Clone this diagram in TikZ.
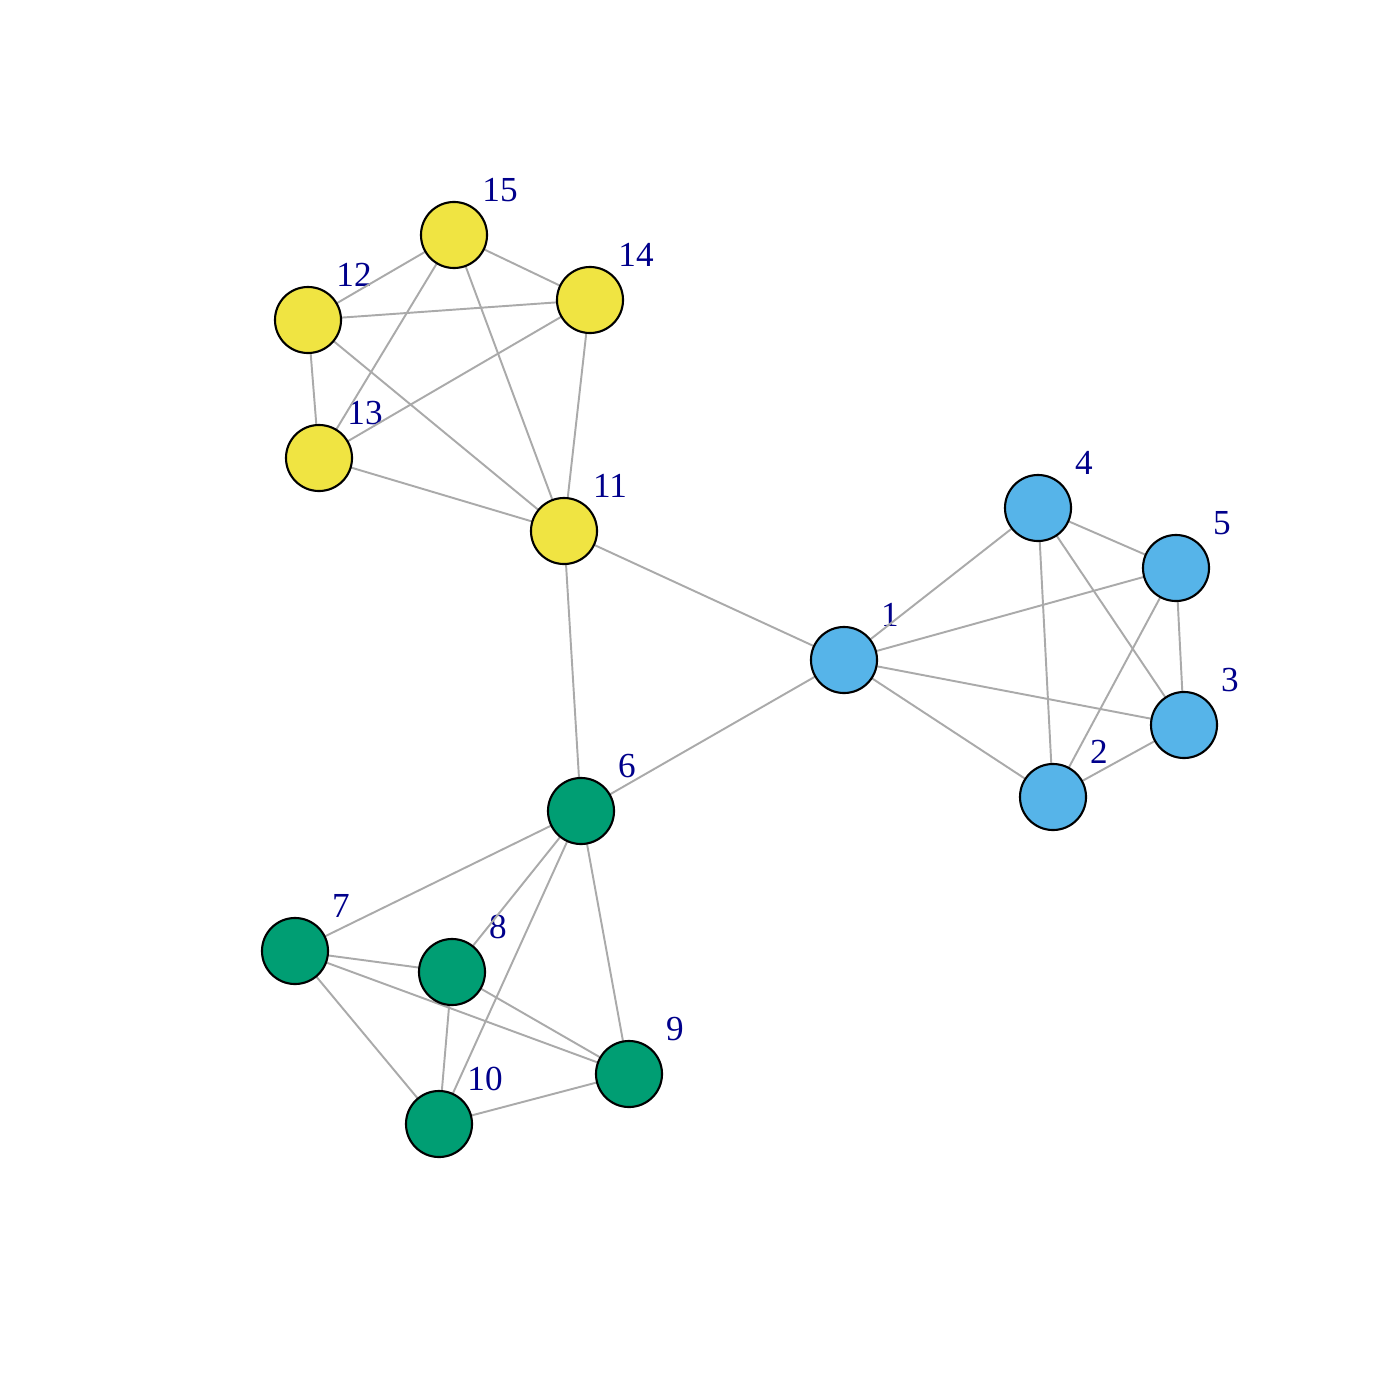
\documentclass[tikz,border=0pt]{standalone}
\usepackage{fontspec}
\setmainfont{Liberation Serif}
\definecolor{cb}{HTML}{56B4E9}
\definecolor{cg}{HTML}{009E73}
\definecolor{cy}{HTML}{F0E442}
\definecolor{lab}{HTML}{00008B}
\definecolor{edge}{HTML}{AAAAAA}
\tikzset{v/.style={circle,draw=black,line width=0.6pt,minimum size=0.66cm,inner sep=0pt},
 lb/.style={text=lab,font=\fontsize{10}{12}\selectfont},
 e/.style={draw=edge,line width=0.55pt}}
\begin{document}
\begin{tikzpicture}[x=0.01cm,y=-0.01cm]
\fill[white] (0,0) rectangle (1400,1400);
\foreach \n/\x/\y/\c in {1/844/660/cb,2/1053/797/cb,3/1184/725/cb,4/1038/508/cb,5/1176/568/cb,
6/581/811/cg,7/295/951/cg,8/452/972/cg,9/629/1074/cg,10/439/1124/cg,
11/564/531/cy,12/308/320/cy,13/319/458/cy,14/590/300/cy,15/454/235/cy}
 {\coordinate (c\n) at (\x,\y); \node[lb] (l\n) at (\x+46,\y-45) {\n};}
\foreach \a/\b in {1/4,1/5,1/3,1/2,4/5,4/3,4/2,5/3,5/2,2/3,1/11,1/6,
6/7,6/8,6/10,6/9,7/8,7/9,7/10,8/10,8/9,10/9,6/11,
15/12,15/14,15/13,15/11,12/14,12/13,12/11,13/14,13/11,14/11}
 \draw[e] (c\a) -- (c\b);
\foreach \n/\c in {1/cb,2/cb,3/cb,4/cb,5/cb,6/cg,7/cg,8/cg,9/cg,10/cg,11/cy,12/cy,13/cy,14/cy,15/cy}
 \node[v,fill=\c] (n\n) at (c\n) {};
\end{tikzpicture}
\end{document}
